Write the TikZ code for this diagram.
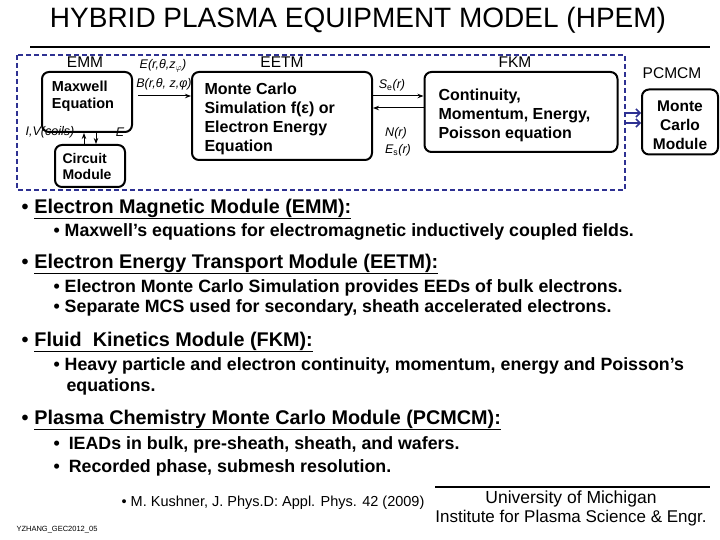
\documentclass[tikz,border=0pt]{standalone}
\usepackage{fontspec}
\setmainfont{Liberation Sans}
\usetikzlibrary{arrows.meta}
\definecolor{navy}{RGB}{46,49,146}
\begin{document}
\begin{tikzpicture}[x=1pt,y=-1pt,
  mod/.style={draw,line width=2pt,rounded corners=7pt},
  lbl/.style={font=\fontsize{15.5}{18}\selectfont},
  it/.style={font=\itshape\fontsize{12.5}{14}\selectfont},
  arr/.style={-{Stealth[length=6pt]},line width=1pt},
  b1/.style={anchor=west,font=\bfseries\fontsize{19.8}{22}\selectfont},
  b2/.style={anchor=west,font=\bfseries\fontsize{17.8}{21}\selectfont,align=left}]
\useasboundingbox (0,0) rectangle (720,540);
\node (title) at (358,20) {\fontsize{28}{32}\selectfont HYBRID PLASMA EQUIPMENT MODEL (HPEM)};
\draw[line width=2.5pt] (30,47) -- (710,47);
\draw[navy,line width=2pt,dash pattern=on 5pt off 3pt] (17,55) rectangle (625,190);
\node[lbl] (emm) at (85,62) {EMM};
\node[lbl] (eetm) at (282,62) {EETM};
\node[lbl] (fkm) at (515,62) {FKM};
\node[lbl] (pcm) at (672,73) {PCMCM};
\node[mod,minimum width=90pt,minimum height=60pt] (max) at (87,102) {};
\node[font=\bfseries\fontsize{14.5}{17}\selectfont,align=left] (maxt) at (83,96) {Maxwell\\Equation};
\node[mod,minimum width=70pt,minimum height=42pt] (cir) at (90,166) {};
\node[font=\bfseries\fontsize{14}{16}\selectfont,align=left] (cirt) at (87,166) {Circuit\\Module};
\draw[arr] (cir.north-|84,0) -- (max.south-|84,0);
\draw[arr] (max.south-|96,0) -- (cir.north-|96,0);
\node[it] (iv) at (50,132) {I,V(coils)};
\node[it] (el) at (120,132) {E};
\node[mod,minimum width=180pt,minimum height=88pt] (mc) at (282,116) {};
\node[font=\bfseries\fontsize{16}{19}\selectfont,align=left,anchor=north west] (mct) at (201,79) {Monte Carlo\\Simulation f(ε) or\\Electron Energy\\Equation};
\node[it] (el2) at (163,66) {E(r,θ,z$_\varphi$)};
\node[it] (bl) at (164,84) {B(r,θ, z,φ)};
\draw[arr] (138,96) -- (mc.west|-0,96);
\node[mod,minimum width=193pt,minimum height=80pt] (fk) at (521,112) {};
\node[font=\bfseries\fontsize{16}{19}\selectfont,align=left,anchor=north west] (fkt) at (435,85) {Continuity,\\Momentum, Energy,\\Poisson equation};
\draw[arr] (mc.east|-0,96) -- (fk.west|-0,96);
\draw[arr] (fk.west|-0,108) -- (mc.east|-0,108);
\node[it] (se) at (392,85) {S$_\mathrm{e}$(r)};
\node[it] (nr) at (396,133) {N(r)};
\node[it] (es) at (398,150) {E$_\mathrm{s}$(r)};
\node[mod,minimum width=76pt,minimum height=65pt] (pc) at (680,122) {};
\node[font=\bfseries\fontsize{15.5}{19}\selectfont,align=center] (pct) at (680,125) {Monte\\Carlo\\Module};
\draw[navy,line width=1.5pt,-{Straight Barb[length=4pt]}] (625,113) -- (641,113);
\draw[navy,line width=1.5pt,-{Straight Barb[length=4pt]}] (625,123) -- (641,123);
\node[b1] (l1) at (18,209) {•\hspace{6pt}\underline{Electron Magnetic Module (EMM):}};
\node[b2] (l2) at (50,232) {•\hspace{5pt}Maxwell’s equations for electromagnetic inductively coupled fields.};
\node[b1] (l3) at (18,264) {•\hspace{6pt}\underline{Electron Energy Transport Module (EETM):}};
\node[b2] (l4) at (50,288) {•\hspace{5pt}Electron Monte Carlo Simulation provides EEDs of bulk electrons.};
\node[b2] (l5) at (50,308) {•\hspace{5pt}Separate MCS used for secondary, sheath accelerated electrons.};
\node[b1] (l6) at (18,342) {•\hspace{6pt}\underline{Fluid\ \ Kinetics Module (FKM):}};
\node[b2] (l7) at (50,366) {•\hspace{5pt}Heavy particle and electron continuity, momentum, energy and Poisson’s};
\node[b2] (l8) at (63,387) {equations.};
\node[b1] (l9) at (18,420) {•\hspace{6pt}\underline{Plasma Chemistry Monte Carlo Module (PCMCM):}};
\node[b2] (l10) at (50,445) {•\hspace{9pt}IEADs in bulk, pre-sheath, sheath, and wafers.};
\node[b2] (l11) at (50,468) {•\hspace{9pt}Recorded phase, submesh resolution.};
\node[font=\fontsize{14.5}{17}\selectfont] (ref) at (273,503) {• M. Kushner, J. Phys.D: Appl. Phys. 42 (2009)};
\draw[line width=2pt] (435,487) -- (710,487);
\node[font=\fontsize{17.5}{20}\selectfont] (um) at (571,499) {University of Michigan};
\node[font=\fontsize{17}{20}\selectfont] (ips) at (571,518) {Institute for Plasma Science \& Engr.};
\node[font=\fontsize{7.5}{8}\selectfont] (yz) at (57,530) {YZHANG\_GEC2012\_05};
\end{tikzpicture}
\end{document}
